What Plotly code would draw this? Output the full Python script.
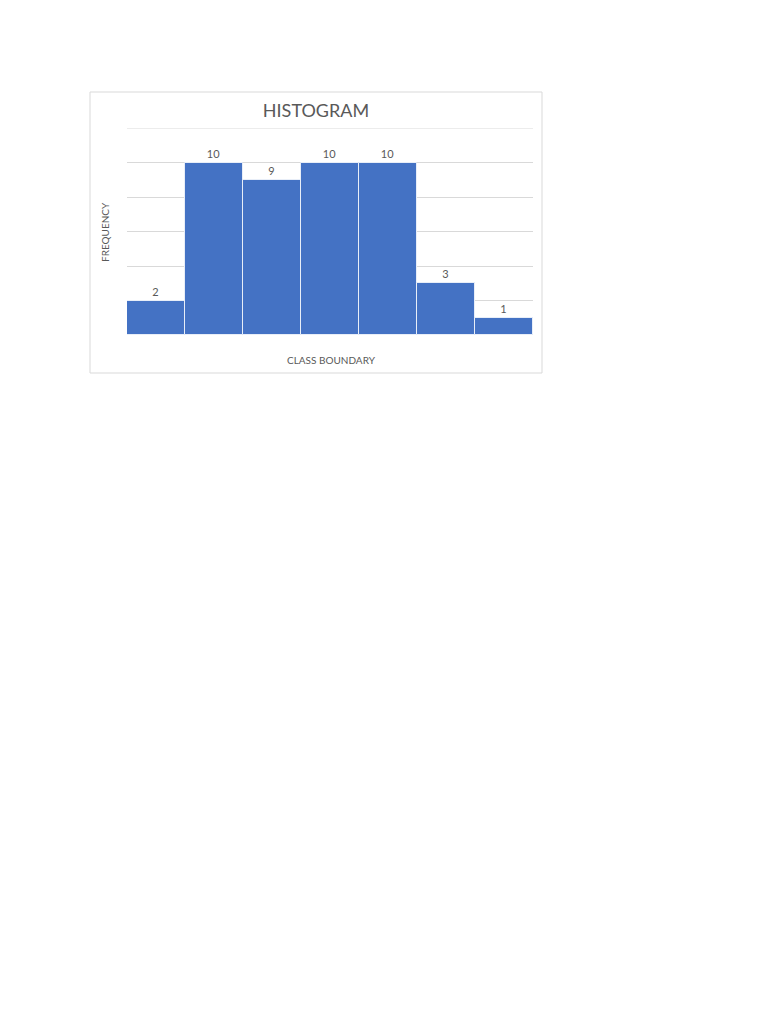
import plotly.graph_objs as go

# class intervals (no tick labels shown in the original) and their frequencies
classes = ["1", "2", "3", "4", "5", "6", "7"]
frequency = [2, 10, 9, 10, 10, 3, 1]

# page body has an 8px margin, so work in figure pixels offset by 8
W, H = 752, 1008
L, T = 119, 120
PW, PH = 406, 207

fig = go.Figure()

fig.add_trace(
    go.Bar(
        x=classes,
        y=frequency,
        text=frequency,
        textposition="outside",
        textfont={"family": "Lato", "size": 11, "color": "#595959"},
        cliponaxis=False,
        marker={"color": "#4472C4", "line": {"color": "#e8eef8", "width": 1}},
    )
)


def px_x(x):
    return (x - 8 - L) / PW


def px_y(y):
    return (T + PH - (y - 8)) / PH


fig.update_layout(
    width=W,
    height=H,
    plot_bgcolor="white",
    paper_bgcolor="white",
    margin={"l": L, "r": W - L - PW, "t": T, "b": H - T - PH, "pad": 0},
    bargap=0,
    showlegend=False,
    font={"family": "Lato", "color": "#595959"},
    title={
        "text": "HISTOGRAM",
        "x": (316 - 8) / W,
        "xanchor": "center",
        "y": 1 - (111 - 8) / H,
        "yanchor": "middle",
        "font": {"size": 18, "color": "#595959"},
    },
    annotations=[
        dict(
            text="FREQUENCY",
            xref="paper",
            yref="paper",
            x=px_x(105),
            y=px_y(232),
            xanchor="center",
            yanchor="middle",
            showarrow=False,
            textangle=-90,
            font={"size": 10, "color": "#595959"},
        ),
        dict(
            text="CLASS BOUNDARY",
            xref="paper",
            yref="paper",
            x=px_x(331),
            y=px_y(360),
            xanchor="center",
            yanchor="middle",
            showarrow=False,
            font={"size": 10, "color": "#595959"},
        ),
    ],
    shapes=[
        dict(
            type="rect",
            xref="paper",
            yref="paper",
            x0=px_x(90),
            x1=px_x(542),
            y0=px_y(373),
            y1=px_y(92),
            line={"color": "#d9d9d9", "width": 1},
            layer="below",
        ),
        # top gridline (plotly skips the one at the range end)
        dict(
            type="line",
            xref="paper",
            yref="y",
            x0=0,
            x1=1,
            y0=12,
            y1=12,
            line={"color": "#d9d9d9", "width": 1},
            layer="below",
        ),
    ],
)

fig.update_xaxes(showticklabels=False, showgrid=False, ticks="", zeroline=False)
fig.update_yaxes(
    range=[0, 12],
    dtick=2,
    showticklabels=False,
    showgrid=True,
    gridcolor="#d9d9d9",
    gridwidth=1,
    zeroline=False,
    ticks="",
    showline=False,
)

fig.write_html("out.html")
